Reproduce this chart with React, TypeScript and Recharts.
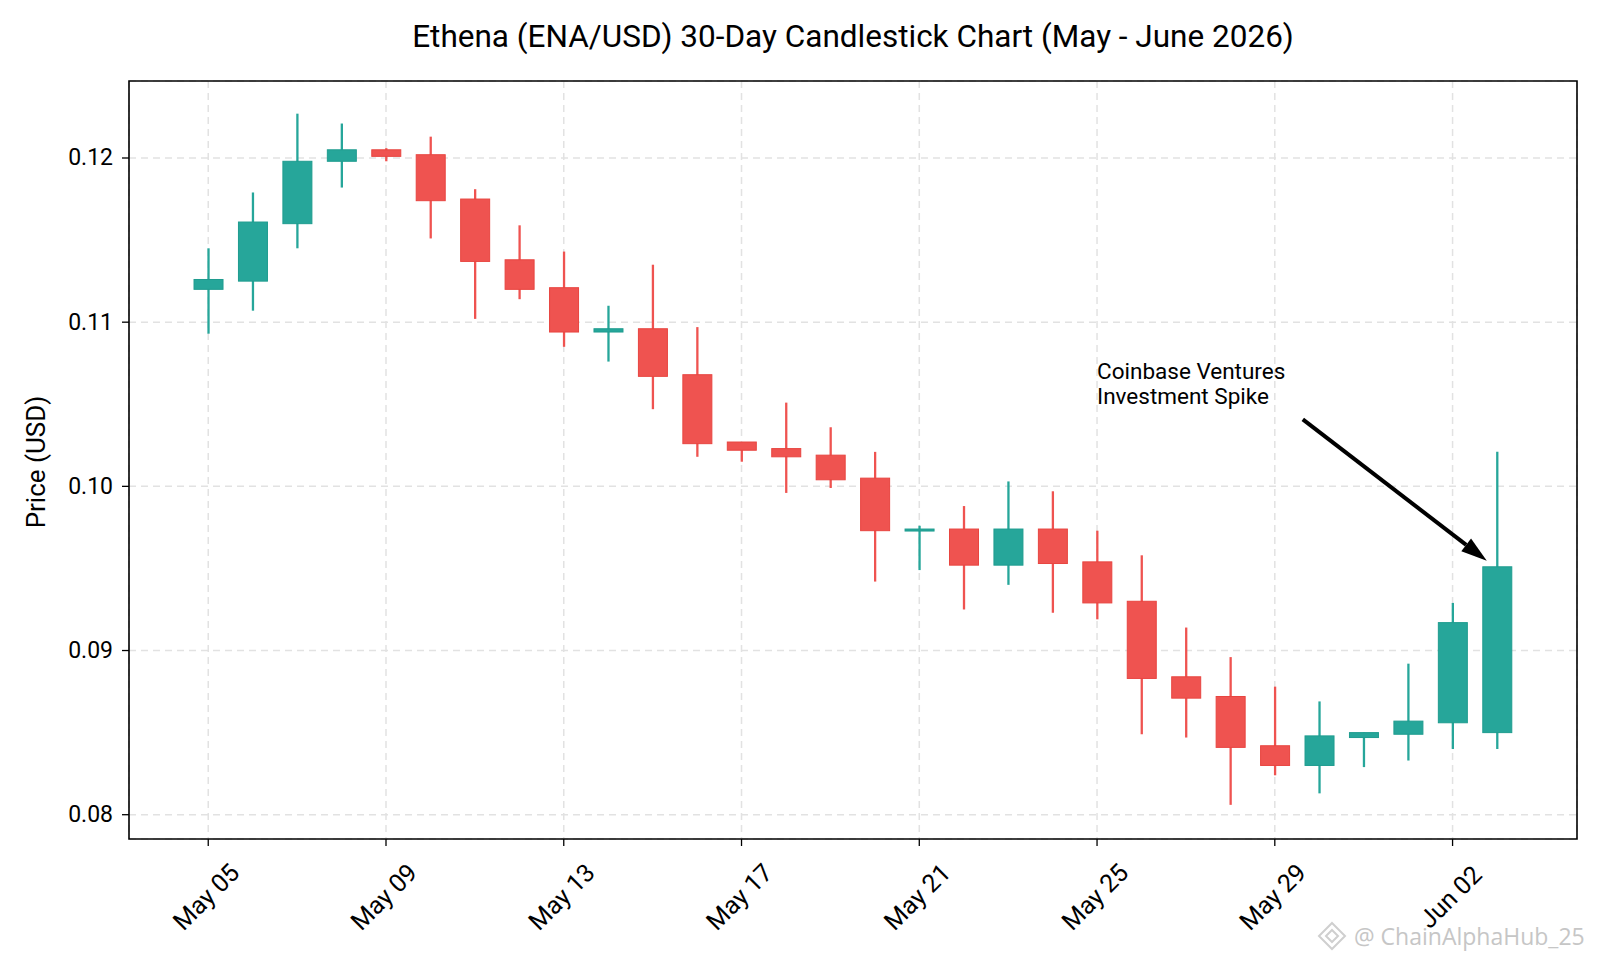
import React from 'react';
import {
  ComposedChart,
  Bar,
  XAxis,
  YAxis,
  CartesianGrid,
  ReferenceArea,
  ReferenceLine,
  ReferenceDot,
} from 'recharts';

// daily candles, May 05 -> Jun 03
const dates = [
  'May 05', 'May 06', 'May 07', 'May 08', 'May 09', 'May 10', 'May 11', 'May 12', 'May 13', 'May 14',
  'May 15', 'May 16', 'May 17', 'May 18', 'May 19', 'May 20', 'May 21', 'May 22', 'May 23', 'May 24',
  'May 25', 'May 26', 'May 27', 'May 28', 'May 29', 'May 30', 'May 31', 'Jun 01', 'Jun 02', 'Jun 03',
];
const opens = [
  0.1120, 0.1125, 0.1160, 0.1198, 0.1205, 0.1202, 0.1175, 0.1138, 0.1121, 0.1094,
  0.1096, 0.1068, 0.1027, 0.1023, 0.1019, 0.1005, 0.0973, 0.0974, 0.0952, 0.0974,
  0.0954, 0.0930, 0.0884, 0.0872, 0.0842, 0.0830, 0.0847, 0.0849, 0.0856, 0.0850,
];
const highs = [
  0.1145, 0.1179, 0.1227, 0.1221, 0.1206, 0.1213, 0.1181, 0.1159, 0.1143, 0.1110,
  0.1135, 0.1097, 0.1027, 0.1051, 0.1036, 0.1021, 0.0976, 0.0988, 0.1003, 0.0997,
  0.0973, 0.0958, 0.0914, 0.0896, 0.0878, 0.0869, 0.0850, 0.0892, 0.0929, 0.1021,
];
const lows = [
  0.1093, 0.1107, 0.1145, 0.1182, 0.1198, 0.1151, 0.1102, 0.1114, 0.1085, 0.1076,
  0.1047, 0.1018, 0.1015, 0.0996, 0.0999, 0.0942, 0.0949, 0.0925, 0.0940, 0.0923,
  0.0919, 0.0849, 0.0847, 0.0806, 0.0824, 0.0813, 0.0829, 0.0833, 0.0840, 0.0840,
];
const closes = [
  0.1126, 0.1161, 0.1198, 0.1205, 0.1201, 0.1174, 0.1137, 0.1120, 0.1094, 0.1096,
  0.1067, 0.1026, 0.1022, 0.1018, 0.1004, 0.0973, 0.0974, 0.0952, 0.0974, 0.0953,
  0.0929, 0.0883, 0.0871, 0.0841, 0.0830, 0.0848, 0.0850, 0.0857, 0.0917, 0.0951,
];

const xTicks = [0, 4, 8, 12, 16, 20, 24, 28];
const yTicks = [0.08, 0.09, 0.1, 0.11, 0.12];
const yTickLabels = ['0.08', '0.09', '0.10', '0.11', '0.12'];

// annotation (data coordinates)
const noteLines = ['Coinbase Ventures', 'Investment Spike'];
const noteAt = { x: 20, y: 0.105 };
const arrowFrom = { x: 24.63, y: 0.10408 };
const arrowTo = { x: 28.77, y: 0.09547 };

const X_DOMAIN: [number, number] = [-1.783, 30.8];
const Y_DOMAIN: [number, number] = [0.07852, 0.12469];

const UP = '#26a69a';
const DOWN = '#ef5350';
const FONT = 'Roboto, "Noto Sans", sans-serif';

const data = dates.map((d, i) => ({
  day: i,
  date: d,
  open: opens[i],
  high: highs[i],
  low: lows[i],
  close: closes[i],
  range: [lows[i], highs[i]],
}));

const Candle = (props: any) => {
  const { x, y, width, height, payload } = props;
  if (!payload) return null;
  const top = Math.min(y, y + height);
  const h = Math.abs(height);
  const span = payload.high - payload.low || 1e-9;
  const py = (p: number) => top + ((payload.high - p) / span) * h;
  const cx = x + width / 2;
  const up = payload.close >= payload.open;
  const color = up ? UP : DOWN;
  const edge = up ? '#1f9c8f' : '#e84540';
  const bTop = py(Math.max(payload.open, payload.close));
  const bBot = py(Math.min(payload.open, payload.close));
  const bh = Math.max(bBot - bTop, 2);
  return (
    <g>
      <line x1={cx} x2={cx} y1={top} y2={top + h} stroke={color} strokeWidth={2.3} />
      <rect x={cx - width / 2} y={bTop} width={width} height={bh} fill={color} stroke={edge} strokeWidth={1} />
    </g>
  );
};

const YTick = (props: any) => {
  const { x, y, payload } = props;
  const idx = yTicks.findIndex((t) => Math.abs(t - payload.value) < 1e-9);
  return (
    <text x={x} y={y} textAnchor="end" dominantBaseline="central" fontSize={23} fontFamily={FONT} fill="#000">
      {idx >= 0 ? yTickLabels[idx] : payload.value}
    </text>
  );
};

const XTick = (props: any) => {
  const { x, y, payload } = props;
  const cx = x - 2;
  const cy = y + 49;
  return (
    <text
      x={cx}
      y={cy}
      textAnchor="middle"
      dominantBaseline="central"
      fontSize={25}
      fontFamily={FONT}
      fill="#000"
      transform={`rotate(-45, ${cx}, ${cy})`}
    >
      {dates[payload.value]}
    </text>
  );
};

const Arrow = (props: any) => {
  const { x1, y1, x2, y2 } = props;
  const ang = Math.atan2(y2 - y1, x2 - x1);
  const len = 26;
  const half = 8;
  const bx = x2 - len * Math.cos(ang);
  const by = y2 - len * Math.sin(ang);
  const px = -Math.sin(ang) * half;
  const py = Math.cos(ang) * half;
  return (
    <g>
      <line x1={x1} y1={y1} x2={bx} y2={by} stroke="#000" strokeWidth={4} />
      <polygon points={`${x2},${y2} ${bx + px},${by + py} ${bx - px},${by - py}`} fill="#000" />
    </g>
  );
};

const Note = (props: any) => {
  const { cx, cy } = props;
  return (
    <text x={cx} y={cy} fontSize={22.5} fontFamily={FONT} fill="#000">
      <tspan x={cx} dy={-25}>{noteLines[0]}</tspan>
      <tspan x={cx} dy={25}>{noteLines[1]}</tspan>
    </text>
  );
};

export default function App() {
  return (
    <div style={{ position: 'absolute', left: 0, top: 0, width: 1600, height: 960, background: '#fff' }}>
      <div
        style={{
          position: 'absolute',
          left: 129,
          width: 1448,
          top: 17,
          textAlign: 'center',
          fontFamily: FONT,
          fontSize: 31.5,
          color: '#000',
          lineHeight: '40px',
        }}
      >
        Ethena (ENA/USD) 30-Day Candlestick Chart (May - June 2026)
      </div>
      <div
        style={{
          position: 'absolute',
          left: 36,
          top: 462,
          transform: 'translate(-50%, -50%) rotate(-90deg)',
          fontFamily: FONT,
          fontSize: 26,
          whiteSpace: 'nowrap',
          color: '#000',
        }}
      >
        Price (USD)
      </div>
      <ComposedChart
        width={1600}
        height={960}
        data={data}
        margin={{ top: 81, right: 23, bottom: 0, left: 0 }}
      >
        <CartesianGrid stroke="#e2e2e2" strokeDasharray="7 5" strokeWidth={1.5} />
        <XAxis
          dataKey="day"
          type="number"
          domain={X_DOMAIN}
          ticks={xTicks}
          allowDataOverflow
          height={121}
          axisLine={false}
          tickLine={{ stroke: '#000', strokeWidth: 1.3 }}
          tickSize={7}
          tickMargin={2}
          tick={<XTick />}
          interval={0}
        />
        <YAxis
          type="number"
          domain={Y_DOMAIN}
          ticks={yTicks}
          allowDataOverflow
          width={129}
          axisLine={false}
          tickLine={{ stroke: '#000', strokeWidth: 1.3 }}
          tickSize={7}
          tickMargin={9}
          tick={<YTick />}
          interval={0}
        />
        <ReferenceArea
          x1={X_DOMAIN[0]}
          x2={X_DOMAIN[1]}
          y1={Y_DOMAIN[0]}
          y2={Y_DOMAIN[1]}
          fill="none"
          fillOpacity={0}
          stroke="#000"
          strokeWidth={1.6}
          ifOverflow="visible"
        />
        <Bar dataKey="range" barSize={29} shape={<Candle />} isAnimationActive={false} />
        <ReferenceLine
          segment={[arrowFrom, arrowTo]}
          ifOverflow="visible"
          shape={<Arrow />}
        />
        <ReferenceDot x={noteAt.x} y={noteAt.y} r={0} ifOverflow="visible" shape={<Note />} />
      </ComposedChart>
      <div
        style={{
          position: 'absolute',
          left: 1316,
          top: 920,
          display: 'flex',
          alignItems: 'center',
          fontFamily: '"Open Sans", "Noto Sans", sans-serif',
          fontSize: 23,
          color: '#c6c6c6',
          whiteSpace: 'nowrap',
        }}
      >
        <svg width={32} height={32} viewBox="0 0 32 32" style={{ marginRight: 6 }}>
          <g fill="none" stroke="#cfcfcf" strokeWidth={2}>
            <path d="M16 3 L29 16 L16 29 L3 16 Z" />
            <path d="M16 10 L22 16 L16 22 L10 16 Z" />
          </g>
        </svg>
        <span>@ ChainAlphaHub_25</span>
      </div>
    </div>
  );
}
